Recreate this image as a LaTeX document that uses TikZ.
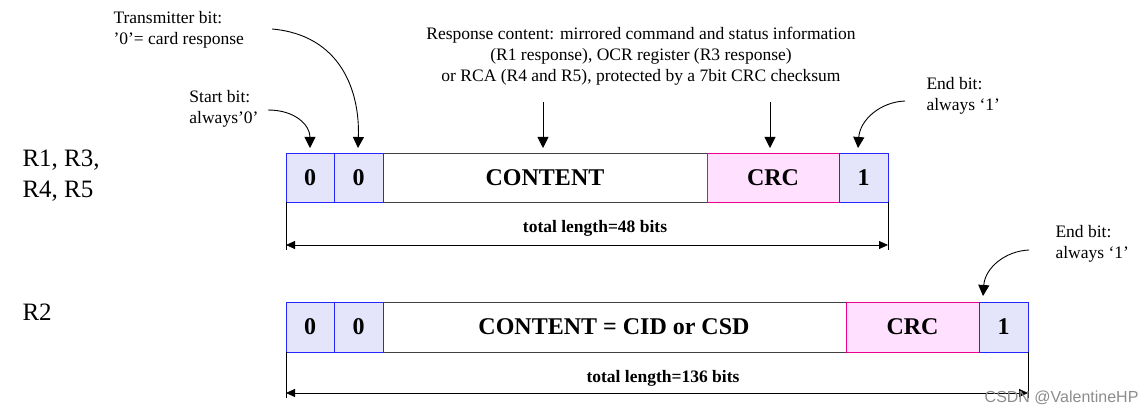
\documentclass[tikz,border=0pt]{standalone}
\usepackage{fontspec}
\setmainfont{Liberation Serif}
\newfontfamily\wm{Liberation Sans}
\usetikzlibrary{arrows.meta}
\definecolor{bitfill}{HTML}{E4E4FA}
\definecolor{crcfill}{HTML}{FFE0FF}
\begin{document}
\begin{tikzpicture}[x=1pt,y=-1pt,
  bitcell/.style={draw=blue!85,fill=bitfill,line width=0.8pt},
  crccell/.style={draw=magenta,fill=crcfill,line width=0.8pt},
  contcell/.style={draw=black!75,fill=white,line width=0.8pt},
  celltext/.style={font=\fontsize{24}{24}\selectfont\bfseries},
  ann/.style={font=\fontsize{17.5}{21}\selectfont,align=left},
  lab/.style={font=\fontsize{25}{31}\selectfont,align=left,anchor=north west},
  tl/.style={font=\fontsize{17.5}{17.5}\selectfont\bfseries},
  pt/.style={-{Triangle[length=11pt,width=11pt]},line width=0.9pt},
  dim/.style={{Triangle[length=9pt,width=8pt]}-{Triangle[length=9pt,width=8pt]},line width=0.8pt}]
\useasboundingbox (0,0) rectangle (1148,414);
% row 1
\draw[contcell] (383,153) rectangle (707,202);
\node[celltext] (c1) at (545,178) {CONTENT};
\draw[bitcell] (286,153) rectangle (334,202);
\node[celltext] (a1) at (310,178) {0};
\draw[bitcell] (334,153) rectangle (383,202);
\node[celltext] (b1) at (358.5,178) {0};
\draw[crccell] (707,153) rectangle (839,202);
\node[celltext] (r1) at (773,178) {CRC};
\draw[bitcell] (839,153) rectangle (888,202);
\node[celltext] (e1) at (863.5,178) {1};
\draw[line width=0.8pt] (286,202) -- (286,250) (888,202) -- (888,250);
\coordinate (l1a) at (286,245); \coordinate (l1b) at (888,245);
\draw[dim] (l1a) -- (l1b);
\node[tl] (t1) at (595,228) {total length=48 bits};
% row 2
\draw[contcell] (383,302) rectangle (846,352);
\node[celltext] (c2) at (614,327) {CONTENT = CID or CSD};
\draw[bitcell] (286,302) rectangle (334,352);
\node[celltext] (a2) at (310,327) {0};
\draw[bitcell] (334,302) rectangle (383,352);
\node[celltext] (b2) at (358.5,327) {0};
\draw[crccell] (846,302) rectangle (979,352);
\node[celltext] (r2) at (912.5,327) {CRC};
\draw[bitcell] (979,302) rectangle (1028,352);
\node[celltext] (e2) at (1003.5,327) {1};
\draw[line width=0.8pt] (286,352) -- (286,398) (1028,352) -- (1028,398);
\coordinate (l2a) at (286,393); \coordinate (l2b) at (1028,393);
\draw[dim] (l2a) -- (l2b);
\node[tl] (t2) at (663,378) {total length=136 bits};
% row labels
\node[lab] (rl1) at (19,146) {R1, R3,\\R4, R5};
\node[lab] (rl2) at (19,300) {R2};
% annotations
\node[ann,anchor=west] (tx) at (110,30) {Transmitter bit:\\’0’= card response};
\coordinate (txs) at (272,29);
\draw[pt] (txs) .. controls (340,35) and (360,90) .. (358,148);
\node[ann,anchor=east] (sb) at (262,109) {Start bit:\\always’0’};
\coordinate (sbs) at (268,110);
\draw[pt] (sbs) .. controls (295,110) and (310,125) .. (310,148);
\node[ann,align=center] (rc) at (641,56) {Response content: mirrored command and status information\\(R1 response), OCR register (R3 response)\\or RCA (R4 and R5), protected by a 7bit CRC checksum};
\coordinate (rcs) at (543,102); \coordinate (rce) at (543,148);
\draw[pt] (rcs) -- (rce);
\coordinate (crs) at (770,102); \coordinate (cre) at (770,148);
\draw[pt] (crs) -- (cre);
\node[ann,anchor=west] (eb1) at (923,96) {End bit:\\always ‘1’};
\coordinate (eb1s) at (905,101);
\draw[pt] (eb1s) .. controls (880,102) and (860,120) .. (858,148);
\node[ann,anchor=west] (eb2) at (1052,244) {End bit:\\always ‘1’};
\coordinate (eb2s) at (1029,250);
\draw[pt] (eb2s) .. controls (1005,251) and (985,268) .. (983,296);
\node[font=\wm\fontsize{16}{16}\selectfont,text=black!45,anchor=east] (wm) at (1142,398) {CSDN @ValentineHP};
\end{tikzpicture}
\end{document}
